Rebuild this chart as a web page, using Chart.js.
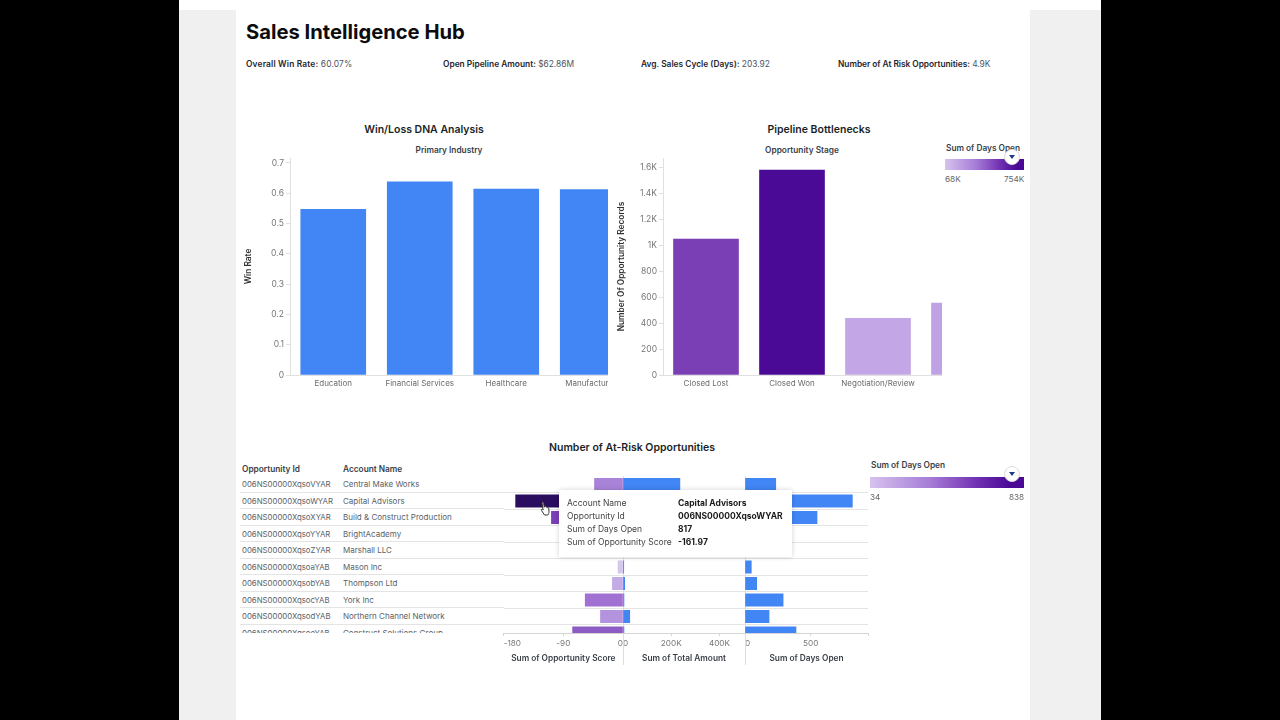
<!DOCTYPE html>
<html>
<head>
<meta charset="utf-8">
<title>Sales Intelligence Hub</title>
<script src="https://cdn.jsdelivr.net/npm/chart.js@4"></script>
<style>
  html, body { margin: 0; padding: 0; background: #000; }
  body { width: 1280px; height: 720px; overflow: hidden; position: relative; font-family: Inter, "Noto Sans", sans-serif; }
  .abs { position: absolute; }
  .mid { position: absolute; transform: translate(-50%, -50%); white-space: nowrap; }
  .lft { position: absolute; transform: translateY(-50%); white-space: nowrap; }
  .h2 { font-size: 10.5px; font-weight: 600; color: #1b1f27; }
  .sub { font-size: 8.3px; font-weight: 600; color: #3a3f48; }
  .kpi { font-size: 8.4px; color: #4b5563; }
  .kpi b { font-weight: 600; color: #1f2530; }
  .small { font-size: 8.2px; color: #666; }
  .clip { position: absolute; overflow: hidden; }
  canvas { position: absolute; display: block; }
  .grad { position: absolute; background: linear-gradient(90deg, #d6c2ee 0%, #a57ad6 40%, #7434b4 68%, #4a0a96 90%, #4a0a96 100%); }
  .btn { position: absolute; width: 14px; height: 14px; border-radius: 50%; background: #fff; border: 1px solid #dcdcdc; z-index: 8; }
  .btn:after { content: ""; position: absolute; left: 3.5px; top: 5px; border-left: 3.5px solid transparent; border-right: 3.5px solid transparent; border-top: 4px solid #1e3a8a; }
  .row { height: 16.5px; line-height: 17.5px; box-sizing: border-box; border-bottom: 1px solid #e4e4e4; position: relative; font-size: 8px; color: #5a5f68; white-space: nowrap; }
  .row span { position: absolute; top: 0; }
  .row .oid { font-size: 7.8px; }
  #tip { position: absolute; left: 559px; top: 490px; width: 233px; height: 67px; background: #fff; box-shadow: 0 0 5px rgba(0,0,0,.18); z-index: 6; font-size: 8.5px; color: #444; }
  #tip div { position: absolute; left: 8px; white-space: nowrap; }
  #tip b { position: absolute; left: 111px; top: 0; font-weight: 700; color: #1a1a1a; }
</style>
</head>
<body>
<div class="abs" style="left:179px;top:0;width:922px;height:720px;background:#fff"></div>
<div class="abs" style="left:179px;top:10px;width:57px;height:710px;background:#f0f0f0"></div>
<div class="abs" style="left:1030px;top:10px;width:71px;height:710px;background:#f0f0f0"></div>

<div class="lft" style="left:246px;top:31px;font-size:20.2px;font-weight:700;color:#0c0c0e">Sales Intelligence Hub</div>
<div class="lft kpi" style="left:246px;top:63.5px;letter-spacing:.17px"><b>Overall Win Rate:</b> 60.07%</div>
<div class="lft kpi" style="left:443px;top:63.5px"><b>Open Pipeline Amount:</b> $62.86M</div>
<div class="lft kpi" style="left:641px;top:63.5px"><b>Avg. Sales Cycle (Days):</b> 203.92</div>
<div class="lft kpi" style="left:838px;top:63.5px;letter-spacing:-.05px"><b>Number of At Risk Opportunities:</b> 4.9K</div>

<div class="mid h2" style="left:424px;top:129px">Win/Loss DNA Analysis</div>
<div class="mid sub" style="left:449px;top:150px">Primary Industry</div>
<div class="mid h2" style="left:819px;top:129px">Pipeline Bottlenecks</div>
<div class="mid sub" style="left:802px;top:150px">Opportunity Stage</div>

<div class="clip" style="left:240px;top:155px;width:368px;height:240px"><canvas id="winChart"></canvas></div>
<div class="clip" style="left:616px;top:155px;width:326px;height:240px"><canvas id="stageChart"></canvas></div>

<div class="lft sub" style="left:946px;top:148px">Sum of Days Open</div>
<div class="grad" style="left:945px;top:159px;width:79px;height:11px"></div>
<div class="lft small" style="left:945px;top:178.5px">68K</div>
<div class="lft small" style="left:1004px;top:178.5px">754K</div>
<div class="btn" style="left:1004px;top:149px"></div>

<div class="mid h2" style="left:632px;top:447px">Number of At-Risk Opportunities</div>
<div class="lft sub" style="left:242px;top:468.5px">Opportunity Id</div>
<div class="lft sub" style="left:343px;top:468.5px">Account Name</div>
<div class="clip" id="rows" style="left:240px;top:476.25px;width:264px;height:156.75px"></div>

<canvas id="scoreChart"></canvas>
<canvas id="amountChart"></canvas>
<canvas id="daysChart"></canvas>
<div class="abs" style="left:623px;top:633px;width:1px;height:32px;background:#dedede"></div>
<div class="abs" style="left:745px;top:633px;width:1px;height:32px;background:#dedede"></div>

<div class="lft sub" style="left:871px;top:465px">Sum of Days Open</div>
<div class="grad" style="left:870px;top:477px;width:154px;height:11px"></div>
<div class="lft small" style="left:870px;top:496.5px">34</div>
<div class="lft small" style="left:1009px;top:496.5px">838</div>
<div class="btn" style="left:1004px;top:466px"></div>

<div id="tip">
  <div style="top:8px">Account Name<b>Capital Advisors</b></div>
  <div style="top:21px">Opportunity Id<b>006NS00000XqsoWYAR</b></div>
  <div style="top:34px">Sum of Days Open<b>817</b></div>
  <div style="top:47px">Sum of Opportunity Score<b>-161.97</b></div>
</div>
<svg class="abs" style="left:539px;top:501px;z-index:9" width="13" height="16" viewBox="0 0 13 16">
  <path d="M3 1.5c.8-.6 1.6 0 1.7.8l.5 4 .4-1c.5-.6 1.3-.3 1.4.4l.1.6c.5-.5 1.2-.2 1.3.5 .5-.3 1.2 0 1.3.7l.3 3c.1 1.500-.5 2.500-1.200 3.500H5.500L2.500 9.500c-.5-.8.3-1.600 1-1l.6.6z" fill="#fff" stroke="#333" stroke-width="1"/>
</svg>

<script>
// ===== DATA =====
const industries = ["Education", "Financial Services", "Healthcare", "Manufacturing"];
const winRates = [0.547, 0.638, 0.614, 0.612];
const winTicks = [0, 0.1, 0.2, 0.3, 0.4, 0.5, 0.6, 0.7];

const stages = ["Closed Lost", "Closed Won", "Negotiation/Review", "Proposal"];
const stageRecords = [1050, 1582, 437, 555];
const stageTicks = [0, 200, 400, 600, 800, 1000, 1200, 1400, 1600];

const opportunityIds = ["006NS00000XqsoVYAR", "006NS00000XqsoWYAR", "006NS00000XqsoXYAR", "006NS00000XqsoYYAR", "006NS00000XqsoZYAR",
  "006NS00000XqsoaYAB", "006NS00000XqsobYAB", "006NS00000XqsocYAB", "006NS00000XqsodYAB", "006NS00000XqsoeYAB"];
const accountNames = ["Central Make Works", "Capital Advisors", "Build & Construct Production", "BrightAcademy", "Marshall LLC",
  "Mason Inc", "Thompson Ltd", "York Inc", "Northern Channel Network", "Construct Solutions Group"];
const opportunityScores = [-43, -161.97, -108, -60, -35, -7.5, -16, -57, -34, -76];
const totalAmounts = [236000, 120000, 80000, 30000, 50000, 3000, 7000, 4000, 28000, 4000];
const daysOpen = [234, 817, 548, 250, 180, 48, 89, 290, 183, 388];
const scoreTicks = [-180, -90, 0];
const amountTicks = [0, 200000, 400000];
const daysTicks = [0, 500];

// ===== COLOURS =====
const BLUE = "#4285f4";
const stageColors = ["#7a3fb4", "#4a0a96", "#c3a6e6", "#bfa2e3"];
const scoreColors = ["#a983d8", "#2a0d5e", "#7b40b8", "#a077d2", "#b596de", "#d4c6ec", "#c3ace6", "#a172d2", "#b393de", "#8c5cc4"];
const AXIS = "#e0e0e0";
const TICK = "#777";
const FONT = "Inter";

// ===== HELPERS =====
function place(id, left, top, w, h) {
  let el = document.getElementById(id);
  el.style.left = left + "px";
  el.style.top = top + "px";
  el.width = w;
  el.height = h;
  el.style.width = w + "px";
  el.style.height = h + "px";
  return el;
}

function kLabel(v) {
  if (v >= 1000) return (v / 1000) + "K";
  return String(v);
}

// the label overhang would otherwise push the plot area around
function noOverhang(s) {
  s.paddingTop = 0;
  s.paddingBottom = 0;
  s.paddingLeft = 0;
  s.paddingRight = 0;
}

function columnChart(id, w, labels, values, colors, yOpts) {
  let el = place(id, 0, 0, w, 240);
  new Chart(el, {
    type: "bar",
    data: { labels: labels, datasets: [{ data: values, backgroundColor: colors, barThickness: 65 }] },
    options: {
      responsive: false,
      animation: false,
      layout: { padding: { top: 3, left: 0, right: 0, bottom: 0 } },
      plugins: { legend: { display: false }, tooltip: { enabled: false } },
      scales: {
        x: {
          grid: { display: false, drawTicks: false },
          border: { color: AXIS },
          ticks: { color: "#6a6a6a", font: { family: FONT, size: 8 }, padding: 4, maxRotation: 0, autoSkip: false },
          afterFit: s => { s.height = 20; noOverhang(s); }
        },
        y: {
          min: 0,
          max: yOpts.max,
          grid: { drawOnChartArea: false, tickLength: 4, color: AXIS },
          border: { color: AXIS },
          title: { display: true, text: yOpts.title, color: "#333", font: { family: FONT, size: 8.3, weight: "600" }, padding: { top: yOpts.titlePad, bottom: 0 } },
          ticks: { color: TICK, font: { family: FONT, size: 8.5 }, padding: 2, autoSkip: false, callback: yOpts.format },
          afterBuildTicks: axis => { axis.ticks = yOpts.ticks.map(v => ({ value: v })); },
          afterFit: s => { s.width = yOpts.axisWidth; noOverhang(s); }
        }
      }
    }
  });
}

function rowChart(id, left, w, padL, padR, values, colors, xOpts) {
  let el = place(id, left, 470, w, 198);
  new Chart(el, {
    type: "bar",
    data: {
      datasets: [{
        data: values.map((v, i) => ({ x: v, y: i })),
        backgroundColor: colors,
        barThickness: 12.5
      }]
    },
    options: {
      indexAxis: "y",
      responsive: false,
      animation: false,
      layout: { padding: { top: 6.25, left: padL, right: padR, bottom: 0 } },
      plugins: { legend: { display: false }, tooltip: { enabled: false } },
      scales: {
        x: {
          type: "linear",
          min: xOpts.min,
          max: xOpts.max,
          grid: { drawOnChartArea: false, tickLength: 3, color: "#d5d5d5" },
          border: { color: "#d5d5d5" },
          title: { display: true, text: xOpts.title, color: "#3a3f48", font: { family: FONT, size: 8.3, weight: "600" }, padding: { top: 0, bottom: 5 } },
          ticks: {
            align: "inner",
            autoSkip: false,
            maxRotation: 0,
            padding: 3,
            color: TICK,
            font: { family: FONT, size: 8.2 },
            // blank tick at the far end keeps the last real label centred
            callback: v => xOpts.ticks.includes(v) ? kLabel(v) : ""
          },
          afterBuildTicks: axis => {
            axis.ticks = xOpts.ticks.map(v => ({ value: v }));
            if (xOpts.max > xOpts.ticks[xOpts.ticks.length - 1]) axis.ticks.push({ value: xOpts.max });
          },
          afterFit: s => { s.height = 35; noOverhang(s); }
        },
        y: {
          type: "linear",
          reverse: true,
          offset: false,
          min: -0.5,
          max: 9,
          grid: { color: "#e4e4e4", drawTicks: false, offset: false },
          border: { display: xOpts.yLine, color: "#dedede" },
          ticks: { display: false },
          afterBuildTicks: axis => {
            axis.ticks = opportunityIds.slice(0, 9).map((d, i) => ({ value: i + 0.5 }));
          },
          afterFit: s => { s.width = 0; noOverhang(s); }
        }
      }
    }
  });
}

// ===== TABLE =====
function renderRows() {
  let box = document.getElementById("rows");
  let html = "";
  opportunityIds.forEach((id, i) => {
    html += `<div class="row"><span class="oid" style="left:2px">${id}</span><span style="left:103px">${accountNames[i].replace("&", "&amp;")}</span></div>`;
  });
  box.innerHTML = html;
}

// ===== CHARTS =====
Chart.defaults.font.family = FONT;

columnChart("winChart", 396, industries, winRates, BLUE, {
  max: 0.7164, ticks: winTicks, title: "Win Rate", titlePad: 4, axisWidth: 50,
  format: v => String(Math.round(v * 10) / 10)
});

columnChart("stageChart", 391, stages, stageRecords, stageColors, {
  max: 1675, ticks: stageTicks, title: "Number Of Opportunity Records", titlePad: 1, axisWidth: 47,
  format: kLabel
});

rowChart("scoreChart", 490, 133, 13.7, 0, opportunityScores, scoreColors, {
  min: -180, max: 0, ticks: scoreTicks, title: "Sum of Opportunity Score", yLine: false
});

rowChart("amountChart", 610, 135, 13, 0, totalAmounts, BLUE, {
  min: 0, max: 506000, ticks: amountTicks, title: "Sum of Total Amount", yLine: true
});

rowChart("daysChart", 737, 135, 8, 4, daysOpen, BLUE, {
  min: 0, max: 936, ticks: daysTicks, title: "Sum of Days Open", yLine: true
});

renderRows();
</script>
</body>
</html>
